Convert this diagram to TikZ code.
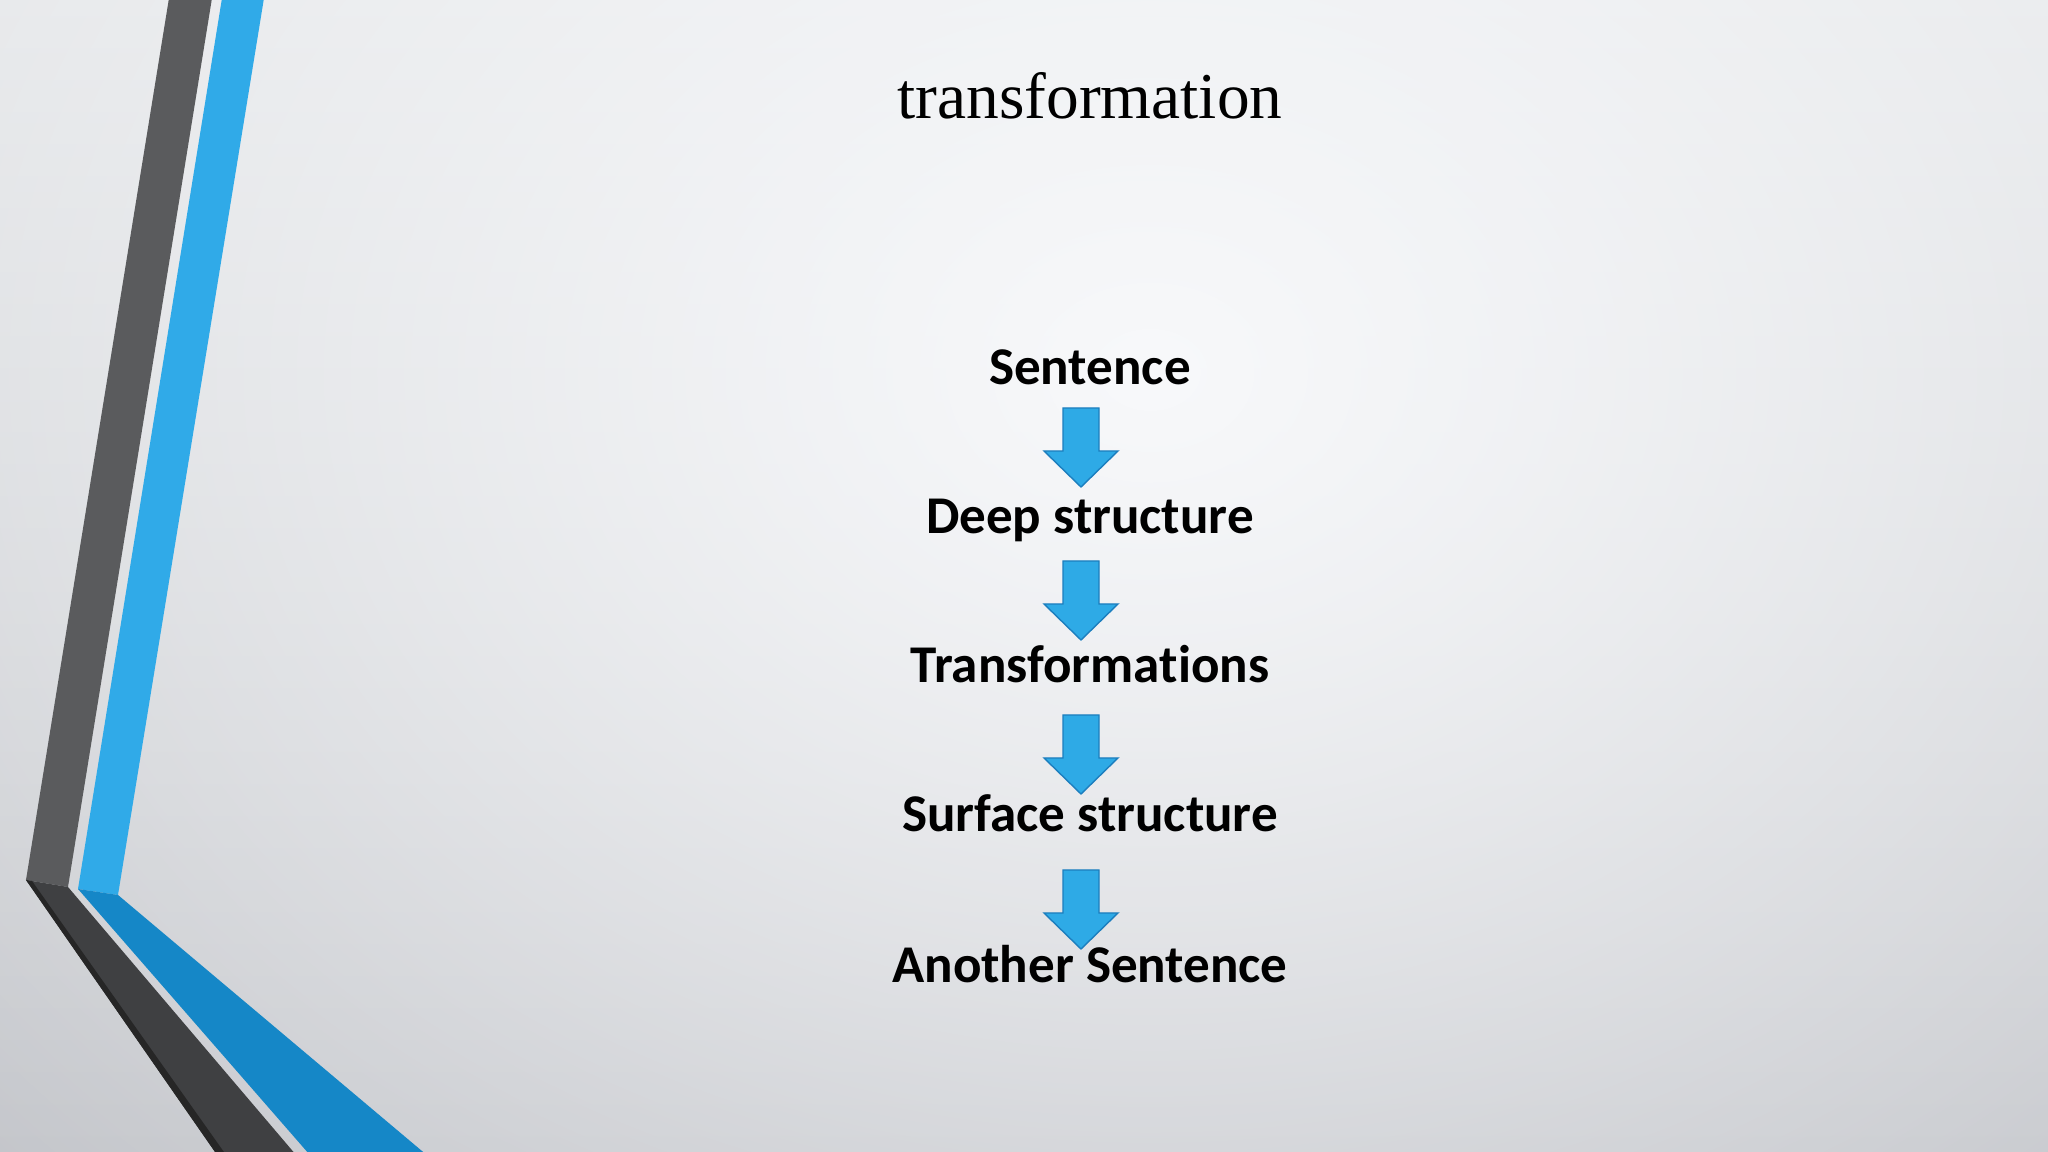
\documentclass[tikz,border=0pt]{standalone}
\usepackage{fontspec}
\setmainfont{Carlito}[Ligatures={NoCommon}]
\newfontfamily\titlefont{Liberation Serif}
\usetikzlibrary{calc,fadings}
\definecolor{bgtop}{HTML}{E3E5E7}
\definecolor{bgbot}{HTML}{BFC1C6}
\definecolor{bghi}{HTML}{F8F9FB}
\definecolor{stripgray}{HTML}{5A5B5D}
\definecolor{stripdark}{HTML}{3F4042}
\definecolor{stripblue}{HTML}{30AAE8}
\definecolor{stripdeep}{HTML}{1587C7}
\definecolor{arrowfill}{HTML}{2EAAE6}
\definecolor{arrowline}{HTML}{1C7EBE}
\tikzfading[name=glow, inner color=transparent!0, outer color=transparent!100]
\begin{document}
\begin{tikzpicture}[>=stealth,
    word/.style={font=\fontsize{15.1}{18}\selectfont\bfseries, anchor=base, inner sep=0pt},
    blockarrow/.style={fill=arrowfill, draw=arrowline, line width=0.4pt, line join=miter}]
    \useasboundingbox (0,0) rectangle (20.48,11.52);
    \clip (0,0) rectangle (20.48,11.52);
    % background
    \shade[top color=bgtop, bottom color=bgbot] (0,0) rectangle (20.48,11.52);
    \fill[bghi, path fading=glow] (11.5,7.8) ellipse (17 and 13);
    % side strips
    \fill[stripgray] (1.70,11.6) -- (2.13,11.6) -- (0.68,2.65) -- (0.26,2.72) -- cycle;
    \fill[stripdark] (0.26,2.72) -- (0.68,2.65) -- (3.02,-0.1) -- (2.22,-0.1) -- cycle;
    \fill[black!85] (0.26,2.72) -- (0.32,2.71) -- (2.31,-0.1) -- (2.22,-0.1) -- cycle;
    \fill[stripblue] (2.23,11.6) -- (2.65,11.6) -- (1.18,2.57) -- (0.78,2.63) -- cycle;
    \fill[stripdeep] (0.78,2.63) -- (1.18,2.57) -- (4.35,-0.1) -- (3.16,-0.1) -- cycle;
    % texts
    \node[font=\titlefont\fontsize{18.6}{22}\selectfont, anchor=base, inner sep=0pt] (title) at (10.90,10.33) {transformation};
    \node[word] (sent) at (10.90,7.67) {Sentence};
    \node[word] (deep) at (10.90,6.18) {Deep structure};
    \node[word] (trans) at (10.90,4.69) {Transformations};
    \node[word] (surf) at (10.90,3.20) {Surface structure};
    \node[word] (another) at (10.90,1.69) {Another Sentence};
    % arrows between the steps
    \foreach \a/\b/\dy in {sent/deep/0.12,deep/trans/0.08,trans/surf/0.03,surf/another/-0.02}{
      \coordinate (mid) at ($(\a.base)!0.5!(\b.base)+(-0.09,\dy)$);
      \draw[blockarrow] (mid) ++(-0.18,0.395) -- ++(0.36,0) -- ++(0,-0.43) -- ++(0.19,0)
        -- ++(-0.37,-0.36) -- ++(-0.37,0.36) -- ++(0.19,0) -- cycle;
    }
  \end{tikzpicture}
\end{document}
